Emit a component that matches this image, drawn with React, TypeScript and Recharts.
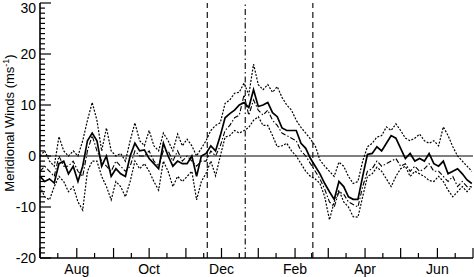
import React from 'react'
import {
  LineChart,
  Line,
  XAxis,
  YAxis,
  ReferenceLine,
} from 'recharts'

// days since 1 July, sampled every 4 days
const days = [
  0, 4, 8, 12, 16, 20, 24, 28, 32, 36, 40, 44, 48, 52, 56, 60, 64, 68, 72, 76,
  80, 84, 88, 92, 96, 100, 104, 108, 112, 116, 120, 124, 128, 132, 136, 140,
  144, 148, 152, 156, 160, 164, 168, 172, 176, 180, 184, 188, 192, 196, 200,
  204, 208, 212, 216, 220, 224, 228, 232, 236, 240, 244, 248, 252, 256, 260,
  264, 268, 272, 276, 280, 284, 288, 292, 296, 300, 304, 308, 312, 316, 320,
  324, 328, 332, 336, 340, 344, 348, 352, 356, 360, 364,
]

const meanWind = [
  -4, -5, -4.5, -5.3, -1.5, -1, -3.5, -2, -5, -2, 3, 4.5, 3, -2, 0, -4, -2.5,
  -3.5, -4, 0, 2.5, 1, 1.2, -0.5, -1.5, -2.5, 2.5, 0, -2, -1, -1.5, -1.5, 0,
  -4, 0, 0.5, 2, 1, 4, 7.5, 8.3, 9, 10, 10.5, 9.5, 13, 9.7, 10, 10.5, 8.5, 7.7,
  5.5, 5, 5, 5, 2.5, 1.5, -0.5, -2, -3.5, -5.4, -7, -8.5, -5, -6, -8, -8.5,
  -8.5, -4, 0.3, 0.5, 1.8, 1, 2.5, 4, 3.5, 1.5, -0.5, 0.5, -1, -0.5, -1, 0.5,
  -1.5, -2, -1, -3.5, -3, -2.5, -3.5, -4.7, -5.4,
]

const altWind = [
  -3, -2, -3, -4, 0, -2, -2, -1, -3, -4, 1, 4, 1, -1, -2, -3, -1, -2, -3, -2,
  1, 0, 0, 1, -1, -2, 1, 1, -1, 1, -1, 0, -1, -2, -1, -1, 1, 0, 2, 5, 6, 7.5,
  8, 12, 8, 11, 9, 8, 9, 7, 6, 4.5, 4, 3.5, 3, 1, 0, -1.5, -3, -4.5, -6.5, -9,
  -10, -7, -7.5, -9, -9.5, -10, -6, -3, -2.5, -1, -2, -1.5, -1, -0.5, -2,
  -1.5, -3, -2, -3, -2.5, -1.5, -3, -3, -4, -5, -4, -6, -5, -6, -6,
]

const upperWind = [
  0, 1, -1, -2, 3.8, 1, 0, 1, 0, 3, 7, 10.5, 7, 1, 5.5, 1, 0, 0.5, -1, 3, 6.5,
  3, 2, 5, 2, 1, 4.5, 3, 1, 4.3, 2, 3.3, 2, 0, 1.5, 3, 5, 6, 6.5, 10.3, 11,
  12.3, 12.5, 14.3, 12, 18, 14, 13, 14, 12.5, 13.6, 11.5, 10, 9, 7, 5.6, 4.5,
  3.3, 2, -0.8, -2, -3, -4, -1.2, -2, -4, -5.4, -5, -1, 1.8, 2.5, 3.7, 4, 5.7,
  5, 6.3, 5, 3.5, 3, 3.5, 4.3, 3, 2.5, 3, 2, 5.7, 4, 1.8, 0, -1, -2, -3,
]

const lowerWind = [
  -6, -8, -8.6, -6, -4, -5, -7, -6, -9, -10.6, -3, -1, -1, -4, -6, -8.6, -5,
  -6, -8, -5, -1, -2.5, -1.5, -3, -5, -6.7, -1, -3, -6, -4, -5, -4, -3, -8.6,
  -5, -3.4, -1, -3.9, 0, 3.7, 4, 5, 4.5, 5, 5.6, 7, 7.7, 6, 6, 4, 1.8, 2, 2.5,
  1, 0, -1.5, -3, -4, -4.5, -5.4, -8, -12.5, -9, -6.7, -9, -10, -11.9, -12,
  -8, -4, -3.5, -2.2, -3, -4.5, -6, -4, -2.5, -2, -4, -3, -3.5, -4, -4.8, -5,
  -4, -5, -6.7, -8, -7, -6, -7, -6,
]

// month starts and mid-months (days since 1 July)
const monthStarts = [0, 31, 62, 92, 123, 153, 184, 215, 243, 274, 304, 335, 365]
const midMonths = [15, 46, 77, 107, 138, 168, 199, 229, 258, 289, 319, 350]
const monthLabels: Record<number, string> = {
  31: 'Aug',
  92: 'Oct',
  153: 'Dec',
  215: 'Feb',
  274: 'Apr',
  335: 'Jun',
}

const yMajor = [-20, -10, 0, 10, 20, 30]
const yMinor = [
  -19, -18, -17, -16, -15, -14, -13, -12, -11, -9, -8, -7, -6, -5, -4, -3, -2,
  -1, 1, 2, 3, 4, 5, 6, 7, 8, 9, 11, 12, 13, 14, 15, 16, 17, 18, 19, 21, 22,
  23, 24, 25, 26, 27, 28, 29,
]

const dashedLines = [141, 230]
const dashDotLine = 173

const FONT = '"Liberation Sans", Arial, Helvetica, sans-serif'

const chartData = days.map((d, i) => ({
  day: d,
  mean: meanWind[i],
  alt: altWind[i],
  upper: upperWind[i],
  lower: lowerWind[i],
}))

const xTicks = [...monthStarts, ...midMonths].sort((a, b) => a - b)
const yTicks = [...yMajor, ...yMinor].sort((a, b) => a - b)

function BottomTick(props: any) {
  const { x, y, payload } = props
  const major = monthStarts.includes(payload.value)
  const label = monthLabels[payload.value]
  return (
    <g>
      <line x1={x} x2={x} y1={y} y2={y - (major ? 10 : 5)} stroke="#000" strokeWidth={1.2} />
      {label && (
        <text x={x} y={y + 16} textAnchor="middle" fontSize={14} fontFamily={FONT} fill="#000">
          {label}
        </text>
      )}
    </g>
  )
}

function TopTick(props: any) {
  const { x, y, payload } = props
  const major = monthStarts.includes(payload.value)
  return <line x1={x} x2={x} y1={y} y2={y + (major ? 10 : 5)} stroke="#000" strokeWidth={1.2} />
}

function LeftTick(props: any) {
  const { x, y, payload } = props
  const major = yMajor.includes(payload.value)
  return (
    <g>
      <line x1={x} x2={x + (major ? 11 : 5)} y1={y} y2={y} stroke="#000" strokeWidth={1.2} />
      {major && (
        <text
          x={x - 4}
          y={y + (payload.value === 30 ? 10 : 5)}
          textAnchor="end"
          fontSize={14}
          fontFamily={FONT}
          fill="#000"
        >
          {payload.value}
        </text>
      )}
    </g>
  )
}

function RightTick(props: any) {
  const { x, y, payload } = props
  const major = yMajor.includes(payload.value)
  return <line x1={x} x2={x - (major ? 11 : 5)} y1={y} y2={y} stroke="#000" strokeWidth={1.2} />
}

export default function App() {
  return (
    <div style={{ position: 'absolute', left: 0, top: 0, width: 474, height: 277, background: '#fff' }}>
      <LineChart
        width={474}
        height={277}
        data={chartData}
        margin={{ top: 3, right: 1, bottom: 0, left: 0 }}
      >
        <XAxis
          dataKey="day"
          type="number"
          domain={[0, 365]}
          ticks={xTicks}
          interval={0}
          tick={<BottomTick />}
          tickLine={false}
          tickSize={0}
          tickMargin={0}
          height={19}
          axisLine={{ stroke: '#000', strokeWidth: 1.6 }}
        />
        <XAxis
          xAxisId="top"
          orientation="top"
          dataKey="day"
          type="number"
          domain={[0, 365]}
          ticks={xTicks}
          interval={0}
          tick={<TopTick />}
          tickLine={false}
          tickSize={0}
          tickMargin={0}
          height={0}
          axisLine={{ stroke: '#000', strokeWidth: 1.6 }}
        />
        <YAxis
          type="number"
          domain={[-20, 30]}
          ticks={yTicks}
          interval={0}
          tick={<LeftTick />}
          tickLine={false}
          tickSize={0}
          tickMargin={0}
          width={40}
          allowDataOverflow
          axisLine={{ stroke: '#000', strokeWidth: 1.6 }}
        />
        <YAxis
          yAxisId="right"
          orientation="right"
          type="number"
          domain={[-20, 30]}
          ticks={yTicks}
          interval={0}
          tick={<RightTick />}
          tickLine={false}
          tickSize={0}
          tickMargin={0}
          width={0}
          axisLine={{ stroke: '#000', strokeWidth: 1.6 }}
        />
        <ReferenceLine y={0} stroke="#000" strokeWidth={1} />
        {dashedLines.map((d) => (
          <ReferenceLine key={d} x={d} stroke="#000" strokeWidth={1.1} strokeDasharray="6 4" />
        ))}
        <ReferenceLine x={dashDotLine} stroke="#000" strokeWidth={1.1} strokeDasharray="6 3 1.5 3" />
        <Line
          dataKey="upper"
          stroke="#000"
          strokeWidth={1.2}
          strokeDasharray="2 1.5"
          dot={false}
          isAnimationActive={false}
        />
        <Line
          dataKey="lower"
          stroke="#000"
          strokeWidth={1.2}
          strokeDasharray="2 1.5"
          dot={false}
          isAnimationActive={false}
        />
        <Line
          dataKey="alt"
          stroke="#000"
          strokeWidth={1.1}
          strokeDasharray="5 2 1.5 2"
          dot={false}
          isAnimationActive={false}
        />
        <Line dataKey="mean" stroke="#000" strokeWidth={1.7} dot={false} isAnimationActive={false} />
      </LineChart>
      <div
        style={{
          position: 'absolute',
          left: 9,
          top: 123,
          transform: 'translate(-50%, -50%) rotate(-90deg)',
          whiteSpace: 'nowrap',
          fontSize: 13,
          fontFamily: FONT,
          color: '#000',
        }}
      >
        Meridional Winds (ms<sup style={{ fontSize: 9 }}>-1</sup>)
      </div>
    </div>
  )
}
